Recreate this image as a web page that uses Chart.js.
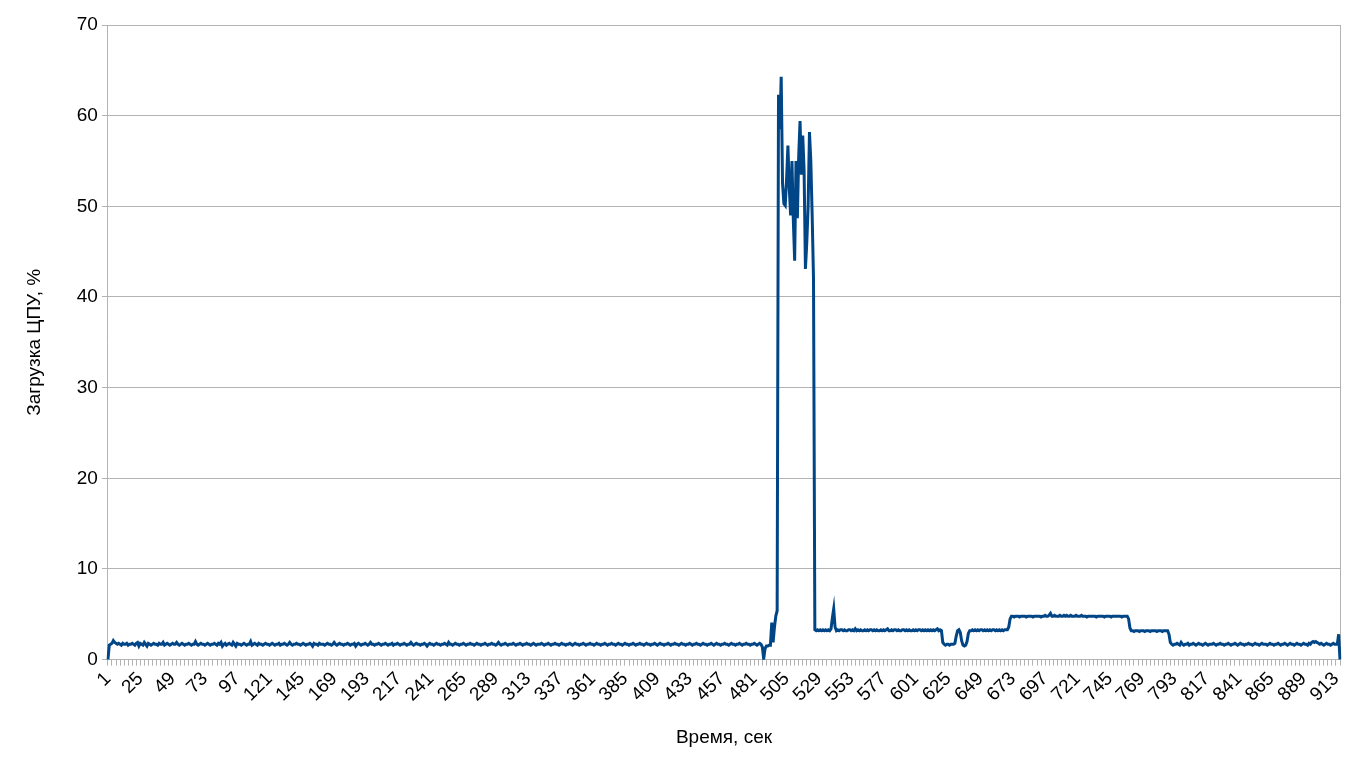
<!DOCTYPE html>
<html>
<head>
<meta charset="utf-8">
<title>Загрузка ЦПУ</title>
<script src="https://cdn.jsdelivr.net/npm/chart.js@4/dist/chart.umd.min.js"></script>
<style>
  html, body { margin: 0; padding: 0; background: #fff; }
  canvas { display: block; background: #fff; }
</style>
</head>
<body>
<canvas id="cpu" width="1368" height="769"></canvas>
<script>
// CPU load, %, one value per second

// sec 1..486 : idle
const idleStart = [
  0, 1.6, 1.7, 1.8, 2.1, 1.9, 1.8, 1.7, 1.8, 1.7, 1.6, 1.8, 1.7, 1.7, 1.8, 1.6, 1.7, 1.7, 1.8, 1.7,
  1.6, 1.8, 1.9, 1.5, 1.8, 1.7, 1.6, 1.9, 1.7, 1.5, 1.8, 1.7, 1.6, 1.7, 1.8, 1.7, 1.7, 1.6, 1.8, 1.7,
  1.7, 1.9, 1.6, 1.7, 1.8, 1.7, 1.6, 1.7, 1.8, 1.7, 1.7, 1.9, 1.7, 1.6, 1.7, 1.8, 1.7, 1.6, 1.7, 1.7,
  1.8, 1.7, 1.6, 1.7, 1.7, 2.0, 1.7, 1.6, 1.7, 1.8, 1.7, 1.7, 1.6, 1.7, 1.8, 1.7, 1.6, 1.7, 1.7, 1.8,
  1.7, 1.6, 1.8, 1.7, 1.9, 1.5, 1.7, 1.8, 1.6, 1.7, 1.8, 1.7, 1.6, 1.9, 1.7, 1.5, 1.8, 1.7, 1.7, 1.6,
  1.7, 1.8, 1.7, 1.6, 1.7, 1.7, 2.0, 1.6, 1.7, 1.8, 1.7, 1.6, 1.8, 1.7, 1.7, 1.6, 1.7, 1.8, 1.7, 1.7,
  1.6, 1.7, 1.8, 1.7, 1.6, 1.7, 1.7, 1.8, 1.6, 1.7, 1.7, 1.8, 1.7, 1.6, 1.7, 1.9, 1.7, 1.6, 1.7, 1.7,
  1.8, 1.7, 1.7, 1.6, 1.7, 1.8, 1.7, 1.6, 1.7, 1.7, 1.8, 1.7, 1.5, 1.8, 1.7, 1.7, 1.6, 1.8, 1.7, 1.7,
  1.7, 1.6, 1.7, 1.8, 1.7, 1.7, 1.6, 1.7, 1.9, 1.7, 1.6, 1.7, 1.8, 1.7, 1.7, 1.6, 1.7, 1.7, 1.8, 1.7,
  1.6, 1.7, 1.7, 1.8, 1.5, 1.7, 1.8, 1.7, 1.6, 1.7, 1.7, 1.8, 1.7, 1.6, 1.7, 1.9, 1.7, 1.7, 1.6, 1.7,
  1.7, 1.8, 1.7, 1.6, 1.7, 1.7, 1.8, 1.7, 1.6, 1.7, 1.7, 1.8, 1.6, 1.7, 1.7, 1.8, 1.7, 1.6, 1.7, 1.7,
  1.8, 1.7, 1.6, 1.7, 1.7, 1.9, 1.7, 1.6, 1.7, 1.8, 1.7, 1.7, 1.6, 1.7, 1.7, 1.8, 1.7, 1.5, 1.7, 1.8,
  1.7, 1.7, 1.6, 1.7, 1.8, 1.7, 1.7, 1.6, 1.7, 1.7, 1.8, 1.7, 1.6, 1.9, 1.7, 1.7, 1.6, 1.7, 1.8, 1.7,
  1.7, 1.6, 1.7, 1.7, 1.8, 1.7, 1.6, 1.7, 1.7, 1.8, 1.7, 1.7, 1.6, 1.7, 1.8, 1.7, 1.7, 1.6, 1.7, 1.7,
  1.8, 1.7, 1.6, 1.7, 1.7, 1.8, 1.7, 1.7, 1.6, 1.7, 1.9, 1.7, 1.6, 1.7, 1.7, 1.8, 1.7, 1.6, 1.7, 1.7,
  1.7, 1.8, 1.7, 1.6, 1.7, 1.7, 1.8, 1.7, 1.6, 1.7, 1.7, 1.8, 1.7, 1.7, 1.6, 1.7, 1.8, 1.7, 1.6, 1.7,
  1.7, 1.7, 1.8, 1.7, 1.6, 1.7, 1.7, 1.8, 1.7, 1.6, 1.7, 1.7, 1.8, 1.7, 1.7, 1.6, 1.7, 1.8, 1.7, 1.7,
  1.6, 1.7, 1.7, 1.8, 1.7, 1.6, 1.7, 1.8, 1.7, 1.7, 1.6, 1.7, 1.7, 1.8, 1.7, 1.6, 1.7, 1.7, 1.8, 1.7,
  1.7, 1.6, 1.7, 1.8, 1.7, 1.7, 1.6, 1.7, 1.7, 1.8, 1.7, 1.6, 1.7, 1.7, 1.8, 1.7, 1.7, 1.6, 1.7, 1.8,
  1.7, 1.7, 1.6, 1.7, 1.8, 1.7, 1.7, 1.6, 1.7, 1.7, 1.8, 1.7, 1.6, 1.7, 1.7, 1.8, 1.7, 1.7, 1.6, 1.7,
  1.8, 1.7, 1.7, 1.6, 1.7, 1.7, 1.8, 1.7, 1.6, 1.7, 1.8, 1.7, 1.7, 1.6, 1.7, 1.7, 1.8, 1.7, 1.6, 1.7,
  1.7, 1.8, 1.7, 1.7, 1.6, 1.7, 1.8, 1.7, 1.7, 1.6, 1.7, 1.7, 1.8, 1.7, 1.6, 1.7, 1.7, 1.8, 1.7, 1.7,
  1.6, 1.7, 1.8, 1.7, 1.7, 1.6, 1.7, 1.7, 1.8, 1.7, 1.6, 1.7, 1.8, 1.7, 1.7, 1.6, 1.7, 1.7, 1.8, 1.7,
  1.7, 1.6, 1.7, 1.8, 1.7, 1.7, 1.6, 1.7, 1.7, 1.8, 1.7, 1.6, 1.7, 1.7, 1.8, 1.7, 1.7, 1.6, 1.7, 1.7,
  1.8, 1.7, 1.6, 1.7, 1.8, 1.7
];

// sec 487..541 : dip, burst, back to ~3.3
const burst = [
  1.4, 0.1, 1.2, 1.5, 1.5, 1.6, 1.6, 4.1, 1.9, 3.6,
  4.8, 5.4, 62.3, 58.5, 64.3, 52.5, 50.3, 50.1, 53, 56.7,
  52, 49, 55, 48.5, 44, 55, 48.7, 55.5, 59.4, 53.5,
  57.8, 54, 43.1, 46, 50, 58.2, 55, 49, 42, 3.3,
  3.2, 3.3, 3.2, 3.3, 3.2, 3.3, 3.2, 3.3, 3.2, 3.3,
  3.2, 3.4, 4.6, 5.6, 3.6
];

// sec 542..620
const plateauA = [
  3.2, 3.3, 3.2, 3.3, 3.3, 3.2, 3.3, 3.2, 3.2, 3.3,
  3.3, 3.2, 3.3, 3.2, 3.4, 3.2, 3.3, 3.2, 3.3, 3.2,
  3.2, 3.3, 3.2, 3.3, 3.2, 3.3, 3.3, 3.2, 3.3, 3.2,
  3.3, 3.2, 3.2, 3.3, 3.2, 3.3, 3.2, 3.3, 3.4, 3.2,
  3.2, 3.3, 3.2, 3.3, 3.3, 3.2, 3.3, 3.2, 3.2, 3.3,
  3.3, 3.2, 3.3, 3.2, 3.3, 3.2, 3.2, 3.3, 3.2, 3.3,
  3.2, 3.3, 3.3, 3.2, 3.3, 3.2, 3.3, 3.2, 3.3, 3.2,
  3.3, 3.2, 3.3, 3.2, 3.3, 3.4, 3.2, 3.3, 3.2
];

// sec 621..641 : double dip
const dropW = [
  1.9, 1.7, 1.6, 1.7, 1.7, 1.6, 1.7, 1.7, 1.7, 1.8,
  2.6, 3.2, 3.3, 3.0, 2.1, 1.6, 1.5, 1.6, 2.0, 2.9,
  3.2
];

// sec 642..671
const plateauB = [
  3.2, 3.3, 3.2, 3.3, 3.2, 3.3, 3.2, 3.3, 3.3, 3.2,
  3.3, 3.2, 3.3, 3.2, 3.3, 3.2, 3.3, 3.3, 3.2, 3.3,
  3.2, 3.3, 3.2, 3.3, 3.2, 3.3, 3.3, 3.3, 3.6, 4.5
];

// sec 672..760
const plateauHigh = [
  4.8, 4.8, 4.7, 4.8, 4.8, 4.8, 4.7, 4.8, 4.8, 4.8,
  4.8, 4.7, 4.8, 4.8, 4.8, 4.8, 4.7, 4.8, 4.8, 4.8,
  4.8, 4.8, 4.7, 4.8, 4.8, 4.9, 4.8, 4.8, 4.9, 5.1,
  4.8, 4.8, 4.9, 4.8, 4.8, 4.8, 4.9, 4.8, 4.8, 4.9,
  4.8, 4.9, 4.8, 4.8, 4.9, 4.8, 4.8, 4.8, 4.9, 4.8,
  4.8, 4.8, 4.9, 4.8, 4.8, 4.8, 4.7, 4.8, 4.8, 4.8,
  4.8, 4.8, 4.8, 4.7, 4.8, 4.8, 4.8, 4.8, 4.8, 4.7,
  4.8, 4.8, 4.8, 4.8, 4.7, 4.8, 4.8, 4.8, 4.8, 4.8,
  4.8, 4.8, 4.7, 4.8, 4.8, 4.8, 4.8, 4.5, 3.5
];

// sec 761..790
const plateauC = [
  3.2, 3.2, 3.1, 3.2, 3.2, 3.2, 3.1, 3.2, 3.2, 3.2,
  3.1, 3.2, 3.2, 3.2, 3.1, 3.2, 3.2, 3.2, 3.2, 3.1,
  3.2, 3.2, 3.2, 3.1, 3.2, 3.2, 3.2, 3.2, 2.8, 1.9
];

// sec 791..916 : idle again
const idleEnd = [
  1.7, 1.6, 1.7, 1.7, 1.8, 1.7, 1.6, 1.9, 1.7, 1.6,
  1.7, 1.7, 1.8, 1.6, 1.7, 1.7, 1.8, 1.7, 1.6, 1.7,
  1.8, 1.7, 1.7, 1.6, 1.7, 1.8, 1.7, 1.6, 1.7, 1.7,
  1.7, 1.8, 1.7, 1.6, 1.7, 1.7, 1.8, 1.7, 1.7, 1.6,
  1.7, 1.7, 1.8, 1.7, 1.6, 1.7, 1.7, 1.8, 1.7, 1.6,
  1.7, 1.8, 1.7, 1.7, 1.6, 1.7, 1.7, 1.8, 1.7, 1.7,
  1.6, 1.7, 1.8, 1.7, 1.7, 1.6, 1.7, 1.8, 1.7, 1.7,
  1.7, 1.6, 1.7, 1.8, 1.7, 1.7, 1.6, 1.7, 1.7, 1.8,
  1.7, 1.6, 1.7, 1.7, 1.8, 1.7, 1.6, 1.7, 1.8, 1.7,
  1.7, 1.6, 1.7, 1.8, 1.7, 1.7, 1.6, 1.7, 1.8, 1.7,
  1.7, 1.6, 1.8, 1.7, 1.9, 2.0, 1.9, 2.0, 1.9, 1.8,
  1.7, 1.8, 1.7, 1.6, 1.7, 1.8, 1.7, 1.7, 1.6, 1.7,
  1.8, 1.7, 1.7, 1.7, 2.8, 0
];

const cpuLoad = [].concat(idleStart, burst, plateauA, dropW, plateauB, plateauHigh, plateauC, idleEnd);
const seconds = cpuLoad.map((v, i) => String(i + 1));

const labelEvery = 24;   // 1, 25, 49 ... 913
const tickEvery = 3;
const lastIdx = cpuLoad.length - 1;

const grey = '#b3b3b3';
const font = { family: '"Liberation Sans", Arial, sans-serif', size: 19 };

new Chart(document.getElementById('cpu'), {
  type: 'line',
  data: {
    labels: seconds,
    datasets: [{
      data: cpuLoad,
      borderColor: '#004586',
      borderWidth: 3,
      pointRadius: 0,
      tension: 0,
      fill: false
    }]
  },
  options: {
    responsive: false,
    animation: false,
    devicePixelRatio: 1,
    layout: { padding: { left: 19, right: 28, top: 25, bottom: 16 } },
    plugins: {
      legend: { display: false },
      tooltip: { enabled: false }
    },
    scales: {
      x: {
        ticks: {
          autoSkip: false,
          minRotation: 45,
          maxRotation: 45,
          padding: 2,
          color: '#000',
          font: font,
          callback: (v, i) => (i % labelEvery === 0 ? seconds[i] : '')
        },
        grid: {
          drawOnChartArea: true,
          color: ctx => (ctx.index === lastIdx ? grey : 'rgba(0,0,0,0)'),
          tickColor: ctx => (ctx.index % tickEvery === 0 ? grey : 'rgba(0,0,0,0)'),
          tickLength: 6
        },
        border: { color: grey },
        title: { display: true, text: 'Время, сек', color: '#000', font: font, padding: { top: 18 } }
      },
      y: {
        min: 0,
        max: 70,
        ticks: { stepSize: 10, color: '#000', font: font, padding: 4 },
        grid: { color: grey, tickLength: 6 },
        border: { color: grey },
        title: { display: true, text: 'Загрузка ЦПУ, %', color: '#000', font: font, padding: { bottom: 27 } }
      }
    }
  }
});
</script>
</body>
</html>
